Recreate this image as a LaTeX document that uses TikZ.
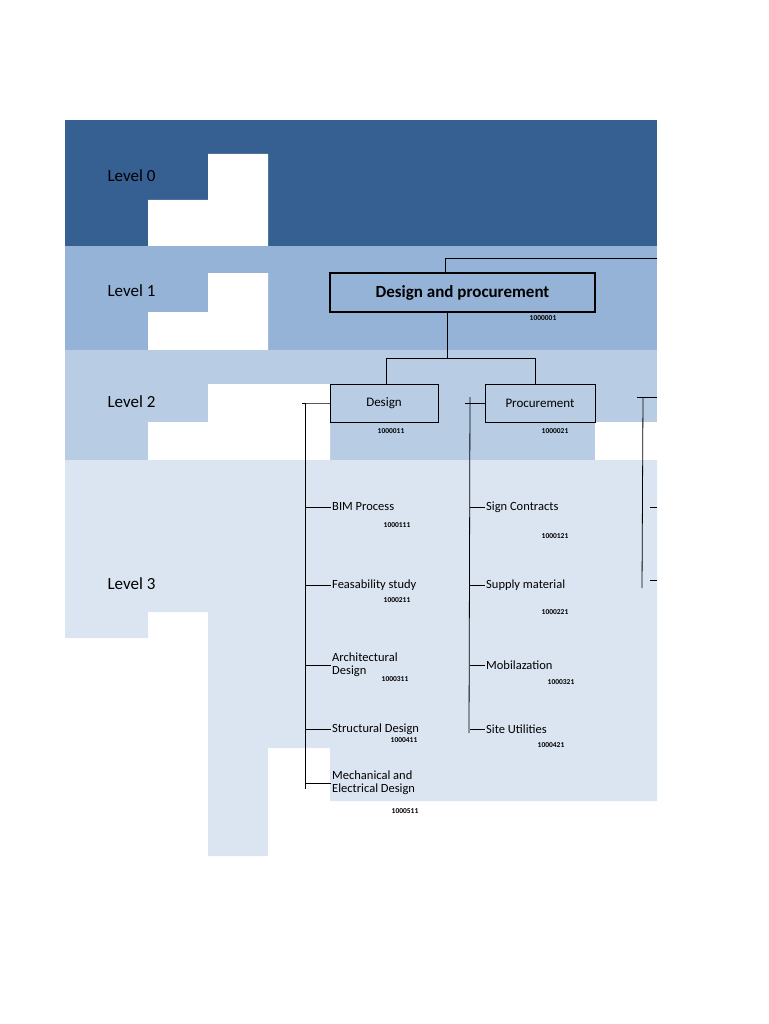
\documentclass[tikz,border=0pt]{standalone}
\usepackage{fontspec}
\setmainfont{Carlito}
\definecolor{lz}{HTML}{366092}
\definecolor{lo}{HTML}{95B3D7}
\definecolor{lt}{HTML}{B8CCE4}
\definecolor{lh}{HTML}{DBE5F1}
\begin{document}
\begin{tikzpicture}[x=1pt,y=-1pt,
  lvl/.style={anchor=west,font=\fontsize{17}{17}\selectfont},
  box/.style={draw,thick,fill=lt,minimum height=38pt,font=\fontsize{13}{13}\selectfont,inner sep=0pt},
  item/.style={anchor=west,align=left,font=\fontsize{12.5}{13}\selectfont,inner sep=1pt},
  code/.style={font=\bfseries\fontsize{7.5}{8}\selectfont,inner sep=0pt},
  ln/.style={draw,line width=0.8pt}]
\useasboundingbox (0,0) rectangle (768,1024);
% bands
\fill[lz] (65,120) rectangle (657,246);
\fill[white] (208,154) rectangle (268,200) (148,200) rectangle (268,246);
\fill[lo] (65,246) rectangle (657,350);
\fill[white] (208,273) rectangle (268,312) (148,312) rectangle (268,350);
\fill[lt] (65,350) rectangle (657,460);
\fill[white] (208,384) rectangle (330,422) (148,422) rectangle (330,460) (595,422) rectangle (657,460);
\fill[lh] (65,460) -- (657,460) -- (657,801) -- (330,801) -- (330,748) -- (268,748) -- (268,856) -- (208,856) -- (208,612) -- (148,612) -- (148,638) -- (65,638) -- cycle;
% level labels
\node[lvl] (L0) at (104,176) {Level 0};
\node[lvl] (L1) at (104,291) {Level 1};
\node[lvl] (L2) at (104,402) {Level 2};
\node[lvl] (L3) at (104,584) {Level 3};
% main box
\node[draw,line width=2pt,fill=lo,minimum width=265pt,minimum height=39pt,font=\bfseries\fontsize{17}{17}\selectfont] (dp) at (462.5,292.5) {Design and procurement};
\node[code] (c0) at (543,318) {1000001};
\node[box,minimum width=108pt,draw,thin] (des) at (384,403) {Design};
\node[box,minimum width=110pt,draw,thin] (pro) at (540,403) {Procurement};
\node[code] (c1) at (391,431) {1000011};
\node[code] (c2) at (555,431) {1000021};
\coordinate (t1) at (445,258);
\coordinate (t2) at (657,258);
\draw[ln] (dp.north -| t1) -- (t1) -- (t2);
\coordinate (b1) at (447,358);
\coordinate (bl) at (386,358);
\coordinate (br) at (535,358);
\draw[ln] (dp.south -| b1) -- (b1);
\draw[ln] (bl) -- (br);
\draw[ln] (bl) -- (des.north -| bl);
\draw[ln] (br) -- (pro.north -| br);
% spines
\coordinate (s1t) at (305,403); \coordinate (s1b) at (305,789);
\coordinate (s2t) at (470,397); \coordinate (s2b) at (469,733);
\coordinate (s3t) at (643,397); \coordinate (s3b) at (642,588);
\draw[ln] (des.west) -- (308,403) -- (302,403);
\draw[ln] (s1t) -- (s1b);
\draw[ln] (pro.west) -- (465,403);
\draw[ln] (s2t) -- (s2b);
\draw[ln] (637,397) -- (657,397);
\draw[ln] (s3t) -- (s3b);
\draw[ln] (650,507) -- (657,507);
\draw[ln] (650,580) -- (657,580);
% design children
\node[item] (d1) at (331,507) {BIM Process};
\node[item] (d2) at (331,585) {Feasability study};
\node[item] (d3) at (331,665) {Architectural\\Design};
\node[item] (d4) at (331,729) {Structural Design};
\node[item] (d5) at (331,783) {Mechanical and\\Electrical Design};
\foreach \n in {d1,d2,d3,d4,d5} \draw[ln] (\n.west -| s1t) -- (\n.west);
\node[code] at (397,525) {1000111};
\node[code] at (397,600) {1000211};
\node[code] at (395,679) {1000311};
\node[code] at (404,740) {1000411};
\node[code] at (405,811) {1000511};
% procurement children
\node[item] (p1) at (485,507) {Sign Contracts};
\node[item] (p2) at (485,585) {Supply material};
\node[item] (p3) at (485,665) {Mobilazation};
\node[item] (p4) at (485,729) {Site Utilities};
\foreach \n in {p1,p2,p3,p4} \draw[ln] (\n.west -| s2t) -- (\n.west);
\node[code] at (555,536) {1000121};
\node[code] at (555,612) {1000221};
\node[code] at (561,682) {1000321};
\node[code] at (551,745) {1000421};
\end{tikzpicture}
\end{document}
